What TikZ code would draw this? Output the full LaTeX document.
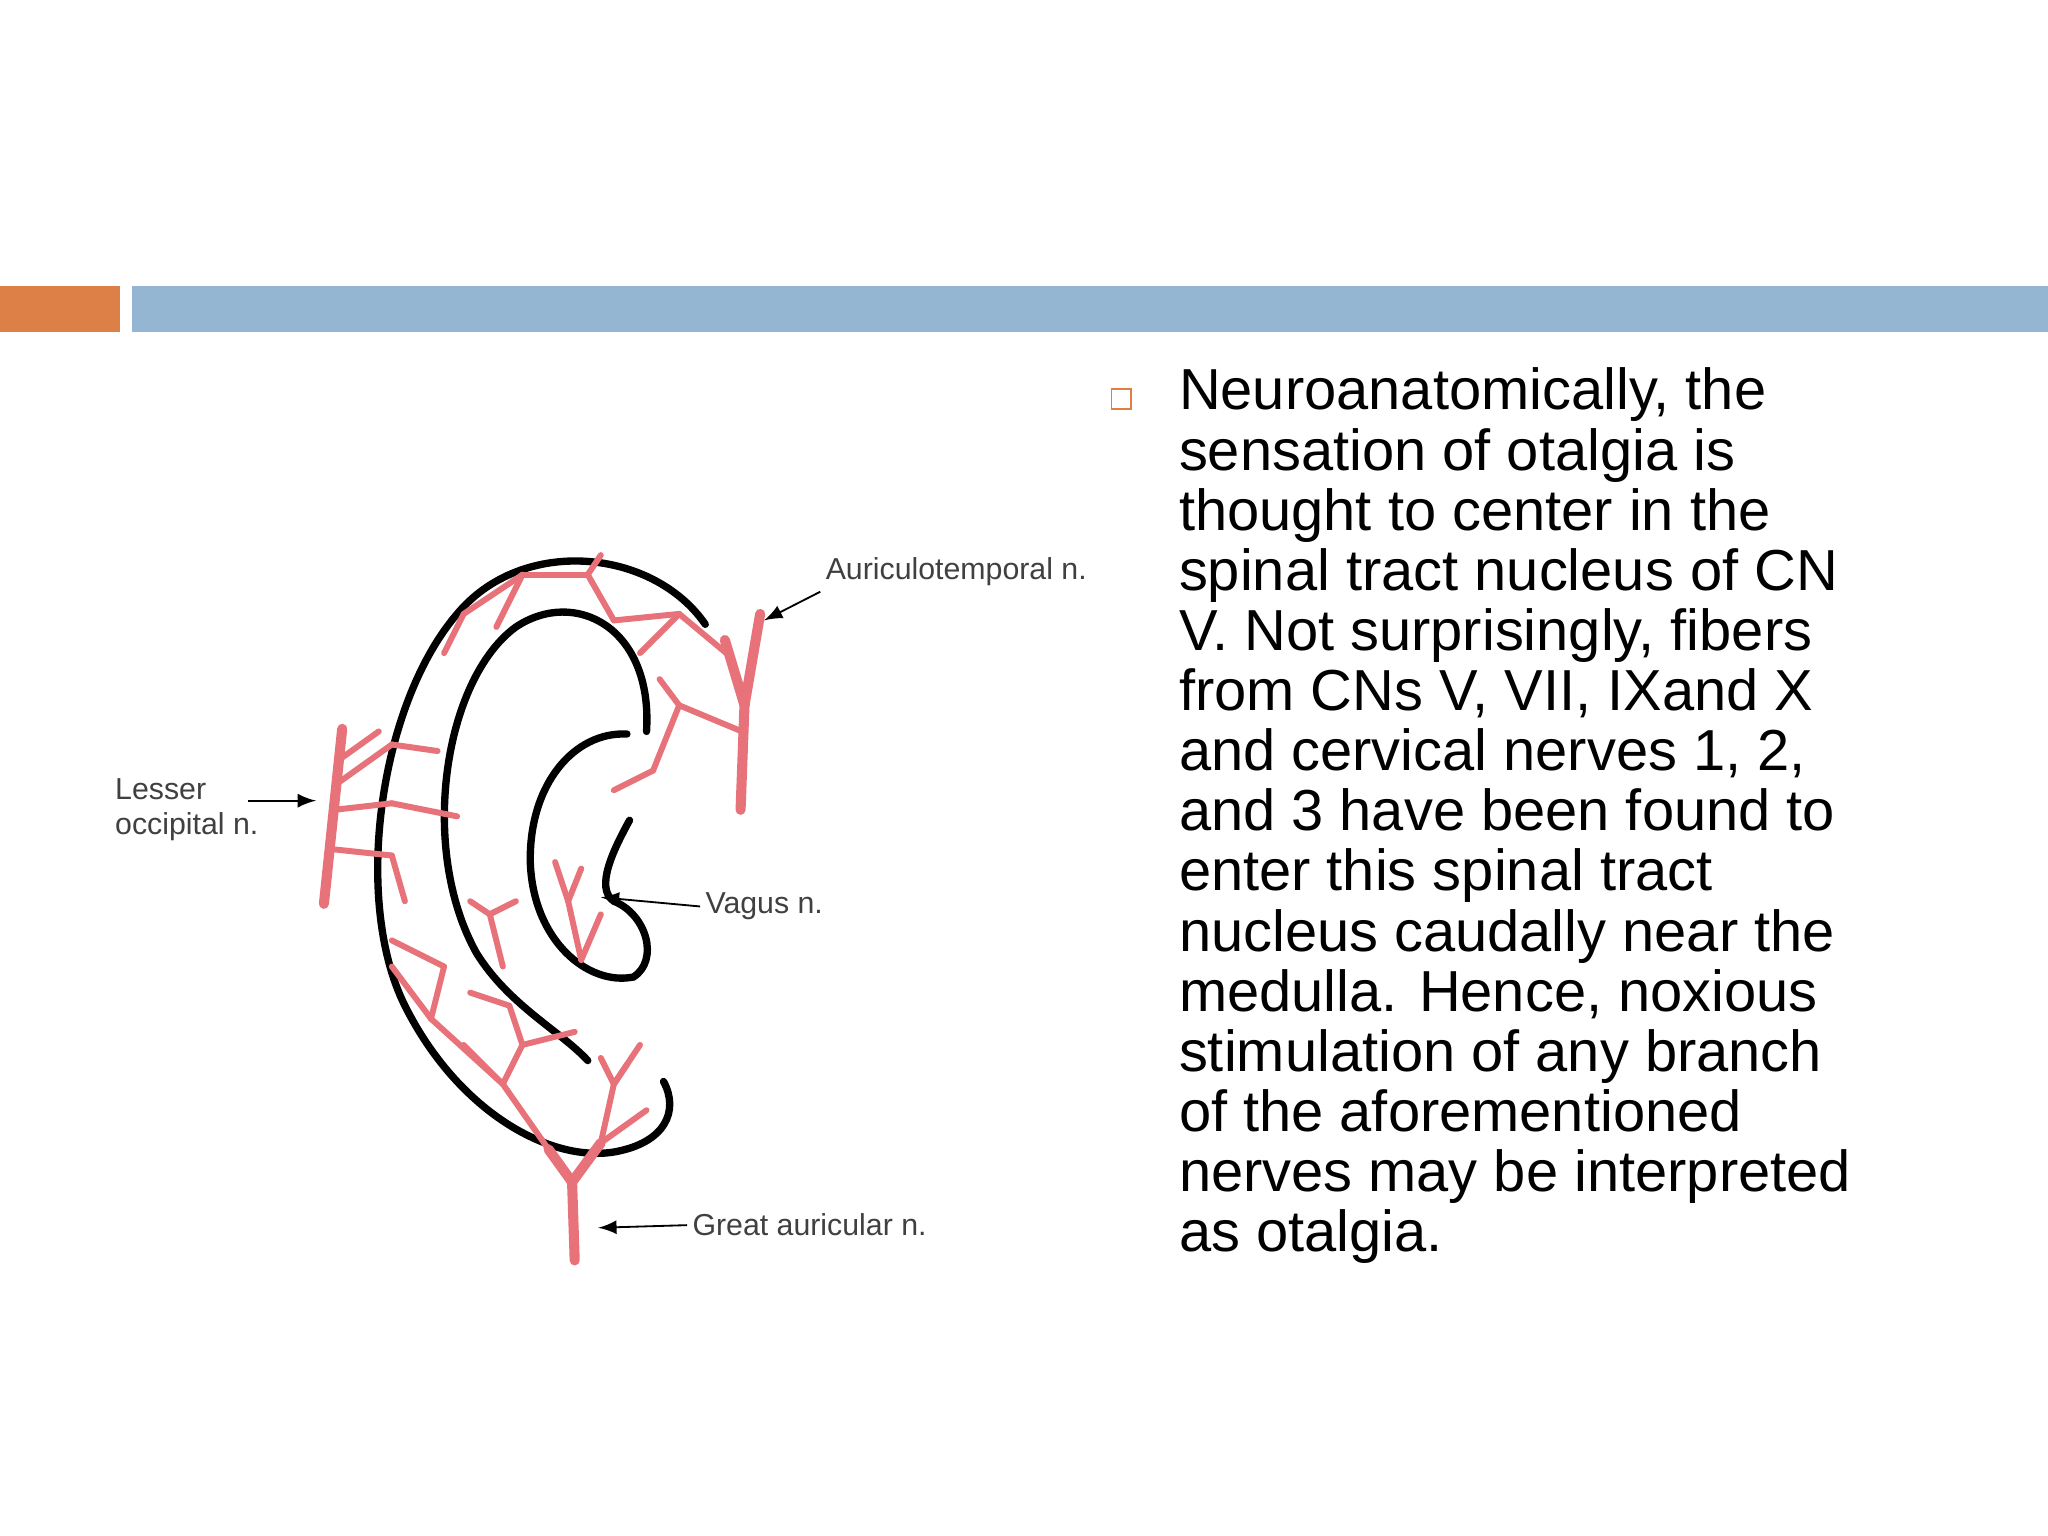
\documentclass[tikz,border=0pt]{standalone}
\usepackage{fontspec}
\setmainfont{Liberation Sans}
\definecolor{barorange}{HTML}{DD8047}
\definecolor{barblue}{HTML}{94B6D2}
\definecolor{nerve}{HTML}{E8727A}
\definecolor{labgray}{HTML}{404040}
\begin{document}
\begin{tikzpicture}[x=0.1mm, y=-0.1mm,
    ear/.style={line width=1.6pt, black, line cap=round},
    nrv/.style={line width=2.2pt, nerve, line cap=round},
    br/.style={line width=1.3pt, nerve, line cap=round},
    lab/.style={font=\fontsize{6.6}{7.8}\selectfont, text=labgray, inner sep=1pt},
    pt/.style={-latex, thin, black}]
    % cornice della pagina
    \useasboundingbox (0,0) rectangle (1568,1176);
    \fill[barorange] (0,219) rectangle (92,254);
    \fill[barblue] (101,219) rectangle (1568,254);

    % testo a destra
    \draw[barorange, thin] (851,298) rectangle (866,313);
    \node[anchor=north west, align=left, inner sep=0pt,
          font=\fontsize{12.6}{13.1}\selectfont] (testo) at (902,281)
      {Neuroanatomically, the\\ sensation of otalgia is\\ thought to center in the\\
       spinal tract nucleus of CN\\ V. Not surprisingly, fibers\\ from CNs V, VII, IXand X\\
       and cervical nerves 1, 2,\\ and 3 have been found to\\ enter this spinal tract\\
       nucleus caudally near the\\ medulla. Hence, noxious\\ stimulation of any branch\\
       of the aforementioned\\ nerves may be interpreted\\ as otalgia.};

    % orecchio: elice, antelice, conca
    \draw[ear] (540,478) .. controls (500,420) and (400,410) .. (350,470)
               .. controls (290,540) and (270,690) .. (310,770)
               .. controls (350,850) and (420,890) .. (470,882)
               .. controls (510,875) and (520,850) .. (508,828);
    \draw[ear] (495,560) .. controls (500,480) and (440,450) .. (395,480)
               .. controls (340,520) and (320,650) .. (365,730)
               .. controls (390,770) and (430,790) .. (450,812);
    \draw[ear] (480,562) .. controls (440,560) and (405,600) .. (406,660)
               .. controls (408,720) and (450,755) .. (485,748)
               .. controls (505,735) and (495,700) .. (470,690)
               .. controls (455,680) and (470,650) .. (482,628);

    % nervi
    \coordinate (lo) at (258,612);
    \draw[nrv] (262,558) -- (248,692);
    \foreach \a/\b in {{258,600}/{300,570}, {300,570}/{335,575}, {256,620}/{300,615},
                       {300,615}/{350,625}, {253,650}/{300,655}, {300,655}/{310,690},
                       {262,580}/{290,560}}
      \draw[br] (\a) -- (\b);

    \coordinate (at) at (585,475);
    \draw[nrv] (567,620) -- (570,540) -- (555,490);
    \draw[nrv] (570,540) -- (582,470);
    \foreach \a/\b in {{556,500}/{520,470}, {520,470}/{470,475}, {470,475}/{450,440},
                       {520,470}/{490,500}, {450,440}/{400,440}, {400,440}/{355,470},
                       {355,470}/{340,500}, {400,440}/{380,480}, {450,440}/{460,425},
                       {568,560}/{520,540}, {520,540}/{500,590}, {500,590}/{470,605},
                       {520,540}/{505,520}}
      \draw[br] (\a) -- (\b);

    \coordinate (ga) at (458,940);
    \draw[nrv] (440,965) -- (438,905) -- (420,880);
    \draw[nrv] (438,905) -- (460,875);
    \foreach \a/\b in {{420,880}/{385,830}, {385,830}/{330,780}, {330,780}/{300,740},
                       {385,830}/{355,800}, {385,830}/{400,800}, {400,800}/{440,790},
                       {460,875}/{470,830}, {470,830}/{490,800}, {470,830}/{460,810},
                       {460,875}/{495,850}, {330,780}/{340,740}, {340,740}/{300,720},
                       {400,800}/{390,770}, {390,770}/{360,760}, {470,830}/{480,815}}
      \draw[br] (\a) -- (\b);

    \coordinate (vg) at (460,687);
    \foreach \a/\b in {{445,735}/{435,690}, {435,690}/{425,660}, {435,690}/{445,665},
                       {445,735}/{460,700}, {385,740}/{375,700}, {375,700}/{360,690},
                       {375,700}/{395,690}}
      \draw[br] (\a) -- (\b);

    % etichette
    \node[lab, anchor=west] (atl) at (628,438) {Auriculotemporal n.};
    \node[lab, anchor=west, align=left] (lol) at (84,620) {Lesser\\ occipital n.};
    \node[lab, anchor=west] (vgl) at (536,694) {Vagus n.};
    \node[lab, anchor=west] (gal) at (526,938) {Great auricular n.};
    \draw[pt] (atl.south west) -- (at);
    \draw[pt] (190,613) -- (242,613);
    \draw[pt] (vgl.west) -- (vg);
    \draw[pt] (gal.west) -- (ga);
\end{tikzpicture}
\end{document}
